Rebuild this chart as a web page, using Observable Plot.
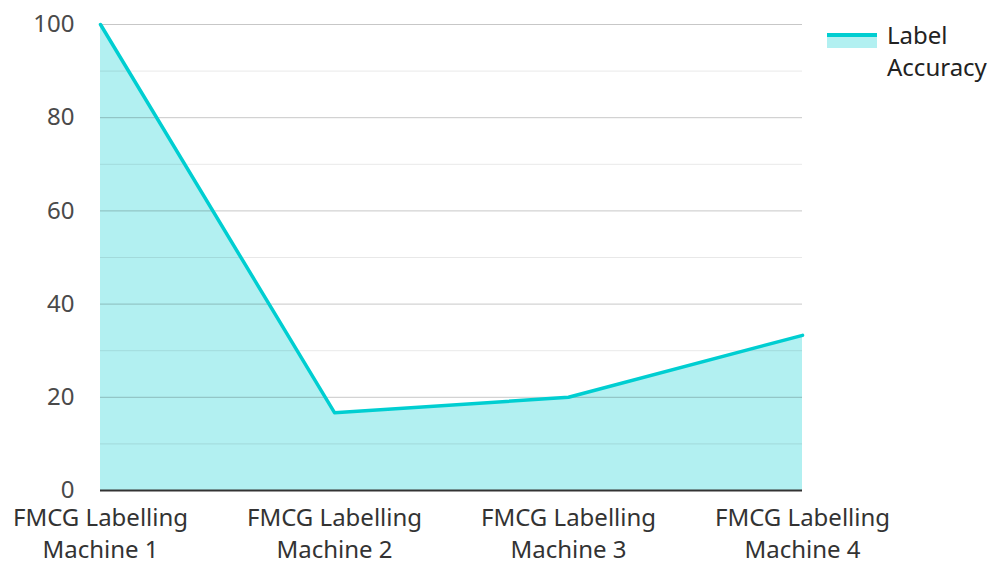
<!DOCTYPE html>
<html><head>
<meta charset="utf-8">
<script src="https://cdn.jsdelivr.net/npm/d3@7"></script>
<script src="https://cdn.jsdelivr.net/npm/@observablehq/plot@0.6"></script>
<style>
body{margin:0;background:#fff;font-family:"Noto Sans",sans-serif}
#wrap{position:relative;width:992px;height:562px}
#legend{position:absolute;left:827px;top:19px;display:flex;align-items:flex-start}
#legend .sw{width:50px;height:11px;margin-top:14px;border-top:4px solid #00ced1;background:rgba(0,206,209,0.3)}
#legend .tx{margin-left:10px;font-size:24px;line-height:32px;color:#222}
</style>
</head><body>
<div id="wrap"><div id="legend"><div class="sw"></div><div class="tx">Label<br>Accuracy</div></div></div>
<script>
const machines = ["FMCG Labelling Machine 1", "FMCG Labelling Machine 2", "FMCG Labelling Machine 3", "FMCG Labelling Machine 4"];
const accuracy = [100, 16.7, 20, 33.3];
const yTicks = [0, 20, 40, 60, 80, 100];
const yMinor = [10, 30, 50, 70, 90];
const seriesName = "Label Accuracy";

const data = machines.map((m, i) => ({machine: m, value: accuracy[i]}));

const chart = Plot.plot({
  width: 992, height: 562,
  marginLeft: 100, marginRight: 190, marginTop: 24, marginBottom: 72,
  style: {fontFamily: "Noto Sans", fontSize: "24px", color: "#444", background: "transparent", overflow: "visible"},
  x: {type: "point", domain: machines, padding: 0},
  y: {domain: [0, 100]},
  marks: [
    Plot.areaY(data, {x: "machine", y: "value", fill: "#00ced1", fillOpacity: 0.3}),
    Plot.ruleY(yMinor, {stroke: "#000", strokeOpacity: 0.09}),
    Plot.ruleY(yTicks.filter(d => d > 0), {stroke: "#000", strokeOpacity: 0.22}),
    Plot.lineY(data, {x: "machine", y: "value", stroke: "#00ced1", strokeWidth: 3.5}),
    Plot.ruleY([0], {stroke: "#333", strokeWidth: 2}),
    Plot.axisY({ticks: yTicks, tickSize: 0, tickPadding: 26, label: null, fill: "#4a4a4a", fontSize: 24}),
    Plot.axisX({tickSize: 0, tickPadding: 13, label: null, fill: "#333", fontSize: 24, lineHeight: 1.32,
      tickFormat: d => d.replace(" Machine", "\nMachine")})
  ]
});
document.getElementById("wrap").prepend(chart);
</script>
</body></html>
